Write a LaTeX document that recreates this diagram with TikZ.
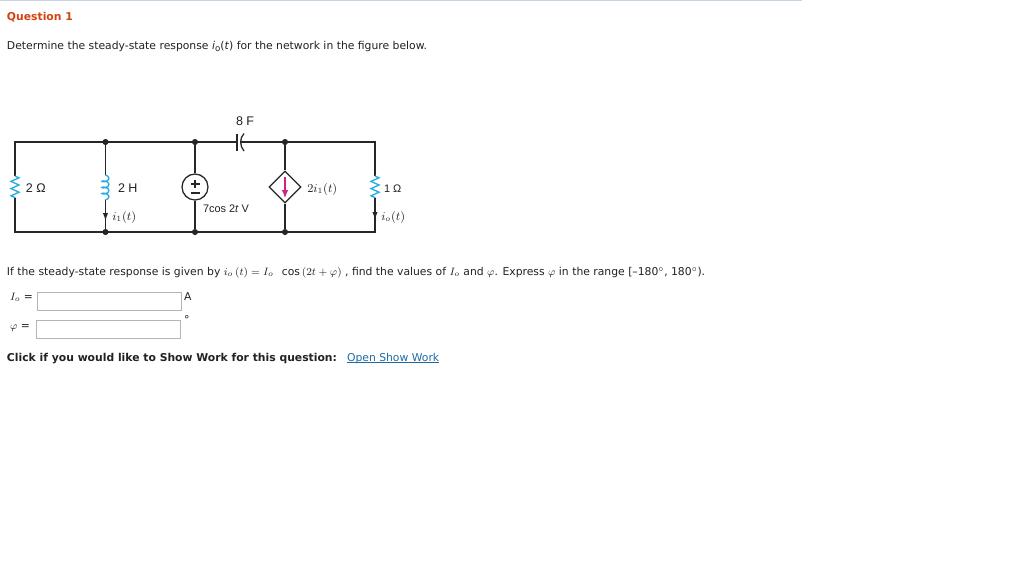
\documentclass[tikz,border=0pt]{standalone}
\usepackage{fontspec}
\setmainfont{DejaVu Sans}
\newfontfamily\arialf{Liberation Sans}
\usetikzlibrary{decorations.pathmorphing,arrows.meta,shapes.geometric}
\definecolor{wirec}{HTML}{262626}
\definecolor{bluec}{HTML}{29ABE2}
\definecolor{txtc}{HTML}{222222}
\definecolor{qc}{HTML}{D4430F}
\definecolor{linkc}{HTML}{1F6BA5}
\definecolor{boxc}{HTML}{B4B4B4}
\definecolor{topc}{HTML}{C8D4E2}
\tikzset{
  x=0.75pt,y=-0.75pt,
  txt/.style={anchor=base west,inner sep=0,outer sep=0,font=\fontsize{8.1pt}{10pt}\selectfont,text=txtc},
  lab/.style={anchor=base west,inner sep=0,outer sep=0,font=\arialf\fontsize{9.4pt}{11pt}\selectfont,text=txtc},
  wire/.style={draw=wirec,line width=0.95pt},
  dot/.style={circle,fill=wirec,inner sep=0,minimum size=4.6pt},
  corner/.style={inner sep=0,minimum size=0},
  ansbox/.style={draw=boxc,line width=0.75pt,fill=white,inner sep=0,anchor=north west,minimum width=108pt,minimum height=13.5pt},
  zig/.style={draw=bluec,line width=1pt,decorate,decoration={zigzag,segment length=5.4pt,amplitude=3pt}},
  coil/.style={draw=bluec,line width=1pt,decorate,decoration={coil,aspect=0.5,segment length=4.6pt,amplitude=2.6pt}},
  curarrow/.style={-{Latex[length=6pt,width=4pt]},draw=wirec,line width=0.95pt}
}
\begin{document}
\begin{tikzpicture}
\useasboundingbox (0,0) rectangle (1024,576);
\fill[white] (0,0) rectangle (1024,576);
\draw[draw=topc,line width=0.9pt] (0,0.6) -- (802,0.6);

% header
\node[txt,text=qc,font=\fontsize{8.1pt}{10pt}\selectfont\bfseries] (q) at (7,20) {Question 1};
\node[txt] (det) at (7,49) {Determine the steady-state response \textit{i}\raisebox{-1.5pt}{\fontsize{6.5pt}{7pt}\selectfont o}(\textit{t}) for the network in the figure below.};

% circuit nodes
\node[corner] (tl) at (15,142) {};
\node[corner] (bl) at (15,232) {};
\node[corner] (tr) at (375,142) {};
\node[corner] (br) at (375,232) {};
\node[dot] (t1) at (105.5,142) {};
\node[dot] (t2) at (195,142) {};
\node[dot] (t3) at (285,142) {};
\node[dot] (b1) at (105.5,232) {};
\node[dot] (b2) at (195,232) {};
\node[dot] (b3) at (285,232) {};
\coordinate (r1a) at (15,176);
\coordinate (r1b) at (15,198);
\coordinate (la) at (105.5,175);
\coordinate (lb) at (105.5,200);
\coordinate (r2a) at (375,176);
\coordinate (r2b) at (375,198);
\coordinate (c1) at (237,142);
\coordinate (c2) at (241,142);
\node[circle,draw=wirec,line width=0.95pt,fill=white,minimum size=19.5pt,inner sep=0] (vs) at (195,187) {};
\node[draw=wirec,line width=0.95pt,fill=white,diamond,inner sep=0,minimum width=24pt,minimum height=24pt,shape aspect=1] (ds) at (285,187) {};

% wires
\draw[wire] (r1a) -- (tl.center) -- (t1.center) -- (t2.center) -- (c1);
\draw[wire] (c2) -- (t3.center) -- (tr.center) -- (r2a);
\draw[wire] (r2b) -- (br.center) -- (b3.center) -- (b2.center) -- (b1.center) -- (bl.center) -- (r1b);
\draw[wire] (t1) -- (la);
\draw[wire] (lb) -- (b1);
\draw[wire] (t2) -- (vs);
\draw[wire] (vs) -- (b2);
\draw[wire] (t3) -- (ds);
\draw[wire] (ds) -- (b3);

% elements
\draw[zig] (r1a) -- (r1b);
\draw[zig] (r2a) -- (r2b);
\draw[coil] (la) -- (lb);
\draw[wire] (237,133.5) -- (237,151);
\draw[wire] (244,133.5) .. controls (239.5,138) and (239.5,146) .. (244,151);

% current arrows
\coordinate (a1s) at (105.5,212);
\coordinate (a1e) at (105.5,221);
\coordinate (a2s) at (375,211);
\coordinate (a2e) at (375,220);
\draw[curarrow] (a1s) -- (a1e);
\draw[curarrow] (a2s) -- (a2e);
\draw[-{Latex[length=6pt,width=5pt]},draw=magenta!85!black,line width=0.9pt] (285,177) -- (285,198);

% source signs
\draw[draw=wirec,line width=0.8pt] (190.5,184) -- (199.5,184) (195,179.5) -- (195,188);
\draw[draw=wirec,line width=0.8pt] (190.5,193) -- (199.5,193);

% circuit labels
\node[lab] (l8f) at (236,125) {8 F};
\node[lab] (l2o) at (26,192) {2 Ω};
\node[lab] (l2h) at (118,192) {2 H};
\node[lab,font=\arialf\fontsize{8.2pt}{10pt}\selectfont] (l1o) at (384,192) {1 Ω};
\node[lab,font=\arialf\fontsize{8.2pt}{10pt}\selectfont] (l7) at (203,212) {7cos 2\textit{t} V};
\node[anchor=base west,inner sep=0,text=txtc,font=\fontsize{9pt}{10pt}\selectfont] (li1) at (112,220) {$i_1(t)$};
\node[anchor=base west,inner sep=0,text=txtc,font=\fontsize{9pt}{10pt}\selectfont] (lio) at (381,220) {$i_o(t)$};
\node[anchor=base west,inner sep=0,text=txtc,font=\fontsize{9pt}{10pt}\selectfont] (l2i) at (307,192) {$2i_1(t)$};

% question text
\node[txt] (q2) at (7,275) {If the steady-state response is given by $i_o\,(t) = I_o\;\;\cos\,(2t + \varphi)$ , find the values of $I_o$ and $\varphi$. Express $\varphi$ in the range [–180$^\circ$, 180$^\circ$).};

% answers
\node[txt] (ilab) at (10,300) {$I_o$ =};
\node[ansbox] (ibox) at (37,292) {};
\node[txt] (ia) at (184,300) {A};
\node[txt] (plab) at (10,329) {$\varphi$ =};
\node[ansbox] (pbox) at (36,320) {};
\node[txt] (pa) at (184,323) {°};

% footer
\node[txt,font=\fontsize{8.1pt}{10pt}\selectfont\bfseries] (cl) at (7,361) {Click if you would like to Show Work for this question:};
\node[txt,text=linkc] (op) at (347,361) {Open Show Work};
\draw[draw=linkc,line width=0.6pt] (347,362.5) -- (439,362.5);
\end{tikzpicture}
\end{document}
